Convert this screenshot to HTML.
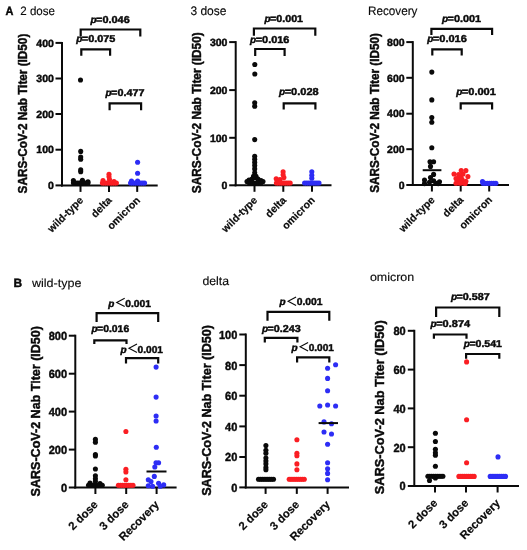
<!DOCTYPE html>
<html><head><meta charset="utf-8"><style>
html,body{margin:0;padding:0;background:#fff;width:527px;height:550px;overflow:hidden}
svg{display:block;will-change:transform}
text{font-family:"Liberation Sans",sans-serif;fill:#0a0a0a}
</style></head><body>
<svg width="527" height="550" viewBox="0 0 527 550">
<rect width="527" height="550" fill="#fff"/>
<line x1="62" y1="41.9" x2="62" y2="186.4" stroke="#0a0a0a" stroke-width="2"/>
<line x1="55.5" y1="185.4" x2="62" y2="185.4" stroke="#0a0a0a" stroke-width="2"/>
<text transform="translate(53.8,189.1) skewX(-0.2)" font-size="10.5" font-weight="bold" font-style="normal" text-anchor="end" textLength="5.84" lengthAdjust="spacingAndGlyphs" stroke="#0a0a0a" stroke-width="0.45" >0</text>
<line x1="55.5" y1="149.7" x2="62" y2="149.7" stroke="#0a0a0a" stroke-width="2"/>
<text transform="translate(53.8,153.4) skewX(-0.2)" font-size="10.5" font-weight="bold" font-style="normal" text-anchor="end" textLength="17.51" lengthAdjust="spacingAndGlyphs" stroke="#0a0a0a" stroke-width="0.45" >100</text>
<line x1="55.5" y1="114.0" x2="62" y2="114.0" stroke="#0a0a0a" stroke-width="2"/>
<text transform="translate(53.8,117.7) skewX(-0.2)" font-size="10.5" font-weight="bold" font-style="normal" text-anchor="end" textLength="17.51" lengthAdjust="spacingAndGlyphs" stroke="#0a0a0a" stroke-width="0.45" >200</text>
<line x1="55.5" y1="78.5" x2="62" y2="78.5" stroke="#0a0a0a" stroke-width="2"/>
<text transform="translate(53.8,82.2) skewX(-0.2)" font-size="10.5" font-weight="bold" font-style="normal" text-anchor="end" textLength="17.51" lengthAdjust="spacingAndGlyphs" stroke="#0a0a0a" stroke-width="0.45" >300</text>
<line x1="55.5" y1="42.9" x2="62" y2="42.9" stroke="#0a0a0a" stroke-width="2"/>
<text transform="translate(53.8,46.6) skewX(-0.2)" font-size="10.5" font-weight="bold" font-style="normal" text-anchor="end" textLength="17.51" lengthAdjust="spacingAndGlyphs" stroke="#0a0a0a" stroke-width="0.45" >400</text>
<line x1="61" y1="185.4" x2="157.7" y2="185.4" stroke="#0a0a0a" stroke-width="2"/>
<line x1="80.5" y1="185.4" x2="80.5" y2="191.9" stroke="#0a0a0a" stroke-width="2"/>
<line x1="109.0" y1="185.4" x2="109.0" y2="191.9" stroke="#0a0a0a" stroke-width="2"/>
<line x1="137.2" y1="185.4" x2="137.2" y2="191.9" stroke="#0a0a0a" stroke-width="2"/>
<text transform="translate(84.0,200.9) rotate(-45)" font-size="10.5" font-weight="bold" text-anchor="end" stroke="#0a0a0a" stroke-width="0.2">wild-type</text>
<text transform="translate(112.5,200.9) rotate(-45)" font-size="10.5" font-weight="bold" text-anchor="end" stroke="#0a0a0a" stroke-width="0.2">delta</text>
<text transform="translate(140.7,200.9) rotate(-45)" font-size="10.5" font-weight="bold" text-anchor="end" stroke="#0a0a0a" stroke-width="0.2">omicron</text>
<text transform="translate(27.1,193.4) rotate(-90)" font-size="13" font-weight="bold" textLength="159.7" lengthAdjust="spacingAndGlyphs" stroke="#0a0a0a" stroke-width="0.45">SARS-CoV-2 Nab Titer (ID50)</text>
<text transform="translate(5.5,14.7) skewX(-0.2)" font-size="12" font-weight="bold" font-style="normal" text-anchor="start" textLength="7.9" lengthAdjust="spacingAndGlyphs" stroke="#0a0a0a" stroke-width="0.45" >A</text>
<text transform="translate(20.3,14.8) skewX(-0.2)" font-size="12.1" font-weight="normal" font-style="normal" text-anchor="start" textLength="34.6" lengthAdjust="spacingAndGlyphs" stroke="#0a0a0a" stroke-width="0.15" >2 dose</text>
<path d="M80.7 36.6 V29.5 H140.3 V36.6" fill="none" stroke="#0a0a0a" stroke-width="2.2" stroke-linecap="butt" stroke-linejoin="miter"/>
<path d="M81.3 55.8 V49.3 H110.1 V55.8" fill="none" stroke="#0a0a0a" stroke-width="2.2" stroke-linecap="butt" stroke-linejoin="miter"/>
<path d="M109.6 110.2 V103.3 H141.1 V110.2" fill="none" stroke="#0a0a0a" stroke-width="2.2" stroke-linecap="butt" stroke-linejoin="miter"/>
<text transform="translate(76.2,42.4) skewX(-0.2)" font-size="10" font-weight="bold" font-style="italic" text-anchor="start" stroke="#0a0a0a" stroke-width="0.45" >p</text>
<text transform="translate(81.8,42.4) skewX(-0.2)" font-size="10" font-weight="bold" font-style="normal" text-anchor="start" textLength="33.6" lengthAdjust="spacingAndGlyphs" stroke="#0a0a0a" stroke-width="0.45" >=0.075</text>
<text transform="translate(105.5,95.8) skewX(-0.2)" font-size="10" font-weight="bold" font-style="italic" text-anchor="start" stroke="#0a0a0a" stroke-width="0.45" >p</text>
<text transform="translate(111.1,95.8) skewX(-0.2)" font-size="10" font-weight="bold" font-style="normal" text-anchor="start" textLength="33.3" lengthAdjust="spacingAndGlyphs" stroke="#0a0a0a" stroke-width="0.45" >=0.477</text>
<text transform="translate(90.5,22.6) skewX(-0.2)" font-size="10" font-weight="bold" font-style="italic" text-anchor="start" stroke="#0a0a0a" stroke-width="0.45" >p</text>
<text transform="translate(96.1,22.6) skewX(-0.2)" font-size="10" font-weight="bold" font-style="normal" text-anchor="start" textLength="33.6" lengthAdjust="spacingAndGlyphs" stroke="#0a0a0a" stroke-width="0.45" >=0.046</text>
<circle cx="80.5" cy="80" r="2.55" fill="#0a0a0a"/>
<circle cx="80.7" cy="151.4" r="2.55" fill="#0a0a0a"/>
<circle cx="80.7" cy="157.1" r="2.55" fill="#0a0a0a"/>
<circle cx="80.7" cy="159.3" r="2.55" fill="#0a0a0a"/>
<circle cx="80.7" cy="169.9" r="2.55" fill="#0a0a0a"/>
<circle cx="80.7" cy="171.8" r="2.55" fill="#0a0a0a"/>
<circle cx="73.4" cy="180.6" r="2.55" fill="#0a0a0a"/>
<circle cx="82.4" cy="180.2" r="2.55" fill="#0a0a0a"/>
<circle cx="88" cy="181.8" r="2.55" fill="#0a0a0a"/>
<circle cx="73.4" cy="183" r="2.55" fill="#0a0a0a"/>
<circle cx="75.49" cy="183" r="2.55" fill="#0a0a0a"/>
<circle cx="77.57" cy="183" r="2.55" fill="#0a0a0a"/>
<circle cx="79.66" cy="183" r="2.55" fill="#0a0a0a"/>
<circle cx="81.74" cy="183" r="2.55" fill="#0a0a0a"/>
<circle cx="83.83" cy="183" r="2.55" fill="#0a0a0a"/>
<circle cx="85.91" cy="183" r="2.55" fill="#0a0a0a"/>
<circle cx="88.0" cy="183" r="2.55" fill="#0a0a0a"/>
<circle cx="109" cy="174.2" r="2.55" fill="#fa1e23"/>
<circle cx="109" cy="176.7" r="2.55" fill="#fa1e23"/>
<circle cx="109.5" cy="179.6" r="2.55" fill="#fa1e23"/>
<circle cx="103" cy="180.5" r="2.55" fill="#fa1e23"/>
<circle cx="114" cy="181.5" r="2.55" fill="#fa1e23"/>
<circle cx="102.4" cy="183" r="2.55" fill="#fa1e23"/>
<circle cx="104.4" cy="183" r="2.55" fill="#fa1e23"/>
<circle cx="106.4" cy="183" r="2.55" fill="#fa1e23"/>
<circle cx="108.4" cy="183" r="2.55" fill="#fa1e23"/>
<circle cx="110.4" cy="183" r="2.55" fill="#fa1e23"/>
<circle cx="112.4" cy="183" r="2.55" fill="#fa1e23"/>
<circle cx="114.4" cy="183" r="2.55" fill="#fa1e23"/>
<circle cx="116.4" cy="183" r="2.55" fill="#fa1e23"/>
<circle cx="137.6" cy="162.2" r="2.55" fill="#2d2df5"/>
<circle cx="137.6" cy="173.3" r="2.55" fill="#2d2df5"/>
<circle cx="131.5" cy="181" r="2.55" fill="#2d2df5"/>
<circle cx="137.6" cy="181" r="2.55" fill="#2d2df5"/>
<circle cx="130.55" cy="183" r="2.55" fill="#2d2df5"/>
<circle cx="132.55" cy="183" r="2.55" fill="#2d2df5"/>
<circle cx="134.55" cy="183" r="2.55" fill="#2d2df5"/>
<circle cx="136.55" cy="183" r="2.55" fill="#2d2df5"/>
<circle cx="138.55" cy="183" r="2.55" fill="#2d2df5"/>
<circle cx="140.55" cy="183" r="2.55" fill="#2d2df5"/>
<circle cx="142.55" cy="183" r="2.55" fill="#2d2df5"/>
<circle cx="144.55" cy="183" r="2.55" fill="#2d2df5"/>
<line x1="235.7" y1="41.1" x2="235.7" y2="186.3" stroke="#0a0a0a" stroke-width="2"/>
<line x1="229.2" y1="185.3" x2="235.7" y2="185.3" stroke="#0a0a0a" stroke-width="2"/>
<text transform="translate(227.4,189.0) skewX(-0.2)" font-size="10.5" font-weight="bold" font-style="normal" text-anchor="end" textLength="5.84" lengthAdjust="spacingAndGlyphs" stroke="#0a0a0a" stroke-width="0.45" >0</text>
<line x1="229.2" y1="137.8" x2="235.7" y2="137.8" stroke="#0a0a0a" stroke-width="2"/>
<text transform="translate(227.4,141.5) skewX(-0.2)" font-size="10.5" font-weight="bold" font-style="normal" text-anchor="end" textLength="17.51" lengthAdjust="spacingAndGlyphs" stroke="#0a0a0a" stroke-width="0.45" >100</text>
<line x1="229.2" y1="90.1" x2="235.7" y2="90.1" stroke="#0a0a0a" stroke-width="2"/>
<text transform="translate(227.4,93.8) skewX(-0.2)" font-size="10.5" font-weight="bold" font-style="normal" text-anchor="end" textLength="17.51" lengthAdjust="spacingAndGlyphs" stroke="#0a0a0a" stroke-width="0.45" >200</text>
<line x1="229.2" y1="42.1" x2="235.7" y2="42.1" stroke="#0a0a0a" stroke-width="2"/>
<text transform="translate(227.4,45.8) skewX(-0.2)" font-size="10.5" font-weight="bold" font-style="normal" text-anchor="end" textLength="17.51" lengthAdjust="spacingAndGlyphs" stroke="#0a0a0a" stroke-width="0.45" >300</text>
<line x1="234.7" y1="185.3" x2="331.5" y2="185.3" stroke="#0a0a0a" stroke-width="2"/>
<line x1="254.5" y1="185.3" x2="254.5" y2="191.8" stroke="#0a0a0a" stroke-width="2"/>
<line x1="283.3" y1="185.3" x2="283.3" y2="191.8" stroke="#0a0a0a" stroke-width="2"/>
<line x1="312.0" y1="185.3" x2="312.0" y2="191.8" stroke="#0a0a0a" stroke-width="2"/>
<text transform="translate(258.0,200.8) rotate(-45)" font-size="10.5" font-weight="bold" text-anchor="end" stroke="#0a0a0a" stroke-width="0.2">wild-type</text>
<text transform="translate(286.8,200.8) rotate(-45)" font-size="10.5" font-weight="bold" text-anchor="end" stroke="#0a0a0a" stroke-width="0.2">delta</text>
<text transform="translate(315.5,200.8) rotate(-45)" font-size="10.5" font-weight="bold" text-anchor="end" stroke="#0a0a0a" stroke-width="0.2">omicron</text>
<text transform="translate(201.2,193.2) rotate(-90)" font-size="13" font-weight="bold" textLength="160.89999999999998" lengthAdjust="spacingAndGlyphs" stroke="#0a0a0a" stroke-width="0.45">SARS-CoV-2 Nab Titer (ID50)</text>
<text transform="translate(190.4,15.0) skewX(-0.2)" font-size="12.4" font-weight="normal" font-style="normal" text-anchor="start" textLength="36.0" lengthAdjust="spacingAndGlyphs" stroke="#0a0a0a" stroke-width="0.15" >3 dose</text>
<path d="M253.9 35.7 V28.5 H315.3 V35.7" fill="none" stroke="#0a0a0a" stroke-width="2.2" stroke-linecap="butt" stroke-linejoin="miter"/>
<path d="M255.2 56 V49 H284.6 V56" fill="none" stroke="#0a0a0a" stroke-width="2.2" stroke-linecap="butt" stroke-linejoin="miter"/>
<path d="M283.7 109.5 V103.3 H315.4 V109.5" fill="none" stroke="#0a0a0a" stroke-width="2.2" stroke-linecap="butt" stroke-linejoin="miter"/>
<text transform="translate(264.5,22.2) skewX(-0.2)" font-size="10" font-weight="bold" font-style="italic" text-anchor="start" stroke="#0a0a0a" stroke-width="0.45" >p</text>
<text transform="translate(270.1,22.2) skewX(-0.2)" font-size="10" font-weight="bold" font-style="normal" text-anchor="start" textLength="32.9" lengthAdjust="spacingAndGlyphs" stroke="#0a0a0a" stroke-width="0.45" >=0.001</text>
<text transform="translate(250.1,42.5) skewX(-0.2)" font-size="10" font-weight="bold" font-style="italic" text-anchor="start" stroke="#0a0a0a" stroke-width="0.45" >p</text>
<text transform="translate(255.7,42.5) skewX(-0.2)" font-size="10" font-weight="bold" font-style="normal" text-anchor="start" textLength="33.7" lengthAdjust="spacingAndGlyphs" stroke="#0a0a0a" stroke-width="0.45" >=0.016</text>
<text transform="translate(279.1,95.3) skewX(-0.2)" font-size="10" font-weight="bold" font-style="italic" text-anchor="start" stroke="#0a0a0a" stroke-width="0.45" >p</text>
<text transform="translate(284.7,95.3) skewX(-0.2)" font-size="10" font-weight="bold" font-style="normal" text-anchor="start" textLength="33.9" lengthAdjust="spacingAndGlyphs" stroke="#0a0a0a" stroke-width="0.45" >=0.028</text>
<circle cx="254.8" cy="64.5" r="2.55" fill="#0a0a0a"/>
<circle cx="254.8" cy="74" r="2.55" fill="#0a0a0a"/>
<circle cx="254.7" cy="102.8" r="2.55" fill="#0a0a0a"/>
<circle cx="254.7" cy="106.2" r="2.55" fill="#0a0a0a"/>
<circle cx="254.7" cy="139.6" r="2.55" fill="#0a0a0a"/>
<circle cx="254.7" cy="156.3" r="2.55" fill="#0a0a0a"/>
<circle cx="254.7" cy="159.2" r="2.55" fill="#0a0a0a"/>
<circle cx="254.7" cy="162.4" r="2.55" fill="#0a0a0a"/>
<circle cx="254.7" cy="165.5" r="2.55" fill="#0a0a0a"/>
<circle cx="254.7" cy="168.9" r="2.55" fill="#0a0a0a"/>
<circle cx="254.7" cy="172.7" r="2.55" fill="#0a0a0a"/>
<circle cx="253.5" cy="176.2" r="2.55" fill="#0a0a0a"/>
<circle cx="256" cy="176.2" r="2.55" fill="#0a0a0a"/>
<circle cx="249" cy="180" r="2.55" fill="#0a0a0a"/>
<circle cx="252" cy="179" r="2.55" fill="#0a0a0a"/>
<circle cx="255" cy="177.5" r="2.55" fill="#0a0a0a"/>
<circle cx="258" cy="179" r="2.55" fill="#0a0a0a"/>
<circle cx="261" cy="180.5" r="2.55" fill="#0a0a0a"/>
<circle cx="247" cy="181.5" r="2.55" fill="#0a0a0a"/>
<circle cx="263" cy="181.5" r="2.55" fill="#0a0a0a"/>
<circle cx="249.4" cy="183" r="2.55" fill="#0a0a0a"/>
<circle cx="251.3" cy="183" r="2.55" fill="#0a0a0a"/>
<circle cx="253.2" cy="183" r="2.55" fill="#0a0a0a"/>
<circle cx="255.1" cy="183" r="2.55" fill="#0a0a0a"/>
<circle cx="257.0" cy="183" r="2.55" fill="#0a0a0a"/>
<circle cx="258.9" cy="183" r="2.55" fill="#0a0a0a"/>
<circle cx="260.8" cy="183" r="2.55" fill="#0a0a0a"/>
<circle cx="283.1" cy="171.8" r="2.55" fill="#fa1e23"/>
<circle cx="283.1" cy="174.7" r="2.55" fill="#fa1e23"/>
<circle cx="283.9" cy="177.6" r="2.55" fill="#fa1e23"/>
<circle cx="276.2" cy="178.8" r="2.55" fill="#fa1e23"/>
<circle cx="280" cy="179.5" r="2.55" fill="#fa1e23"/>
<circle cx="276.4" cy="183" r="2.55" fill="#fa1e23"/>
<circle cx="278.37" cy="183" r="2.55" fill="#fa1e23"/>
<circle cx="280.34" cy="183" r="2.55" fill="#fa1e23"/>
<circle cx="282.31" cy="183" r="2.55" fill="#fa1e23"/>
<circle cx="284.29" cy="183" r="2.55" fill="#fa1e23"/>
<circle cx="286.26" cy="183" r="2.55" fill="#fa1e23"/>
<circle cx="288.23" cy="183" r="2.55" fill="#fa1e23"/>
<circle cx="290.2" cy="183" r="2.55" fill="#fa1e23"/>
<circle cx="311.8" cy="171.8" r="2.55" fill="#2d2df5"/>
<circle cx="311.8" cy="175.3" r="2.55" fill="#2d2df5"/>
<circle cx="311.8" cy="178.2" r="2.55" fill="#2d2df5"/>
<circle cx="304.6" cy="183" r="2.55" fill="#2d2df5"/>
<circle cx="306.66" cy="183" r="2.55" fill="#2d2df5"/>
<circle cx="308.71" cy="183" r="2.55" fill="#2d2df5"/>
<circle cx="310.77" cy="183" r="2.55" fill="#2d2df5"/>
<circle cx="312.83" cy="183" r="2.55" fill="#2d2df5"/>
<circle cx="314.89" cy="183" r="2.55" fill="#2d2df5"/>
<circle cx="316.94" cy="183" r="2.55" fill="#2d2df5"/>
<circle cx="319.0" cy="183" r="2.55" fill="#2d2df5"/>
<line x1="412.8" y1="41.1" x2="412.8" y2="186.0" stroke="#0a0a0a" stroke-width="2"/>
<line x1="406.3" y1="185.0" x2="412.8" y2="185.0" stroke="#0a0a0a" stroke-width="2"/>
<text transform="translate(404.6,188.7) skewX(-0.2)" font-size="10.5" font-weight="bold" font-style="normal" text-anchor="end" textLength="5.84" lengthAdjust="spacingAndGlyphs" stroke="#0a0a0a" stroke-width="0.45" >0</text>
<line x1="406.3" y1="149.2" x2="412.8" y2="149.2" stroke="#0a0a0a" stroke-width="2"/>
<text transform="translate(404.6,152.9) skewX(-0.2)" font-size="10.5" font-weight="bold" font-style="normal" text-anchor="end" textLength="17.51" lengthAdjust="spacingAndGlyphs" stroke="#0a0a0a" stroke-width="0.45" >200</text>
<line x1="406.3" y1="113.7" x2="412.8" y2="113.7" stroke="#0a0a0a" stroke-width="2"/>
<text transform="translate(404.6,117.4) skewX(-0.2)" font-size="10.5" font-weight="bold" font-style="normal" text-anchor="end" textLength="17.51" lengthAdjust="spacingAndGlyphs" stroke="#0a0a0a" stroke-width="0.45" >400</text>
<line x1="406.3" y1="77.8" x2="412.8" y2="77.8" stroke="#0a0a0a" stroke-width="2"/>
<text transform="translate(404.6,81.5) skewX(-0.2)" font-size="10.5" font-weight="bold" font-style="normal" text-anchor="end" textLength="17.51" lengthAdjust="spacingAndGlyphs" stroke="#0a0a0a" stroke-width="0.45" >600</text>
<line x1="406.3" y1="42.1" x2="412.8" y2="42.1" stroke="#0a0a0a" stroke-width="2"/>
<text transform="translate(404.6,45.8) skewX(-0.2)" font-size="10.5" font-weight="bold" font-style="normal" text-anchor="end" textLength="17.51" lengthAdjust="spacingAndGlyphs" stroke="#0a0a0a" stroke-width="0.45" >800</text>
<line x1="411.8" y1="185.0" x2="509" y2="185.0" stroke="#0a0a0a" stroke-width="2"/>
<line x1="431.9" y1="185.0" x2="431.9" y2="191.5" stroke="#0a0a0a" stroke-width="2"/>
<line x1="460.7" y1="185.0" x2="460.7" y2="191.5" stroke="#0a0a0a" stroke-width="2"/>
<line x1="489.2" y1="185.0" x2="489.2" y2="191.5" stroke="#0a0a0a" stroke-width="2"/>
<text transform="translate(435.4,200.5) rotate(-45)" font-size="10.5" font-weight="bold" text-anchor="end" stroke="#0a0a0a" stroke-width="0.2">wild-type</text>
<text transform="translate(464.2,200.5) rotate(-45)" font-size="10.5" font-weight="bold" text-anchor="end" stroke="#0a0a0a" stroke-width="0.2">delta</text>
<text transform="translate(492.7,200.5) rotate(-45)" font-size="10.5" font-weight="bold" text-anchor="end" stroke="#0a0a0a" stroke-width="0.2">omicron</text>
<text transform="translate(378.9,192.8) rotate(-90)" font-size="13" font-weight="bold" textLength="159.8" lengthAdjust="spacingAndGlyphs" stroke="#0a0a0a" stroke-width="0.45">SARS-CoV-2 Nab Titer (ID50)</text>
<text transform="translate(368,15.0) skewX(-0.2)" font-size="12.4" font-weight="normal" font-style="normal" text-anchor="start" textLength="49.4" lengthAdjust="spacingAndGlyphs" stroke="#0a0a0a" stroke-width="0.15" >Recovery</text>
<path d="M431.4 35.1 V28.8 H492.1 V35.1" fill="none" stroke="#0a0a0a" stroke-width="2.2" stroke-linecap="butt" stroke-linejoin="miter"/>
<path d="M432.3 55.4 V49.3 H461.7 V55.4" fill="none" stroke="#0a0a0a" stroke-width="2.2" stroke-linecap="butt" stroke-linejoin="miter"/>
<path d="M460.7 109.5 V103.3 H492.1 V109.5" fill="none" stroke="#0a0a0a" stroke-width="2.2" stroke-linecap="butt" stroke-linejoin="miter"/>
<text transform="translate(442.0,22.2) skewX(-0.2)" font-size="10" font-weight="bold" font-style="italic" text-anchor="start" stroke="#0a0a0a" stroke-width="0.45" >p</text>
<text transform="translate(447.6,22.2) skewX(-0.2)" font-size="10" font-weight="bold" font-style="normal" text-anchor="start" textLength="33.5" lengthAdjust="spacingAndGlyphs" stroke="#0a0a0a" stroke-width="0.45" >=0.001</text>
<text transform="translate(427.2,42.1) skewX(-0.2)" font-size="10" font-weight="bold" font-style="italic" text-anchor="start" stroke="#0a0a0a" stroke-width="0.45" >p</text>
<text transform="translate(432.8,42.1) skewX(-0.2)" font-size="10" font-weight="bold" font-style="normal" text-anchor="start" textLength="34.1" lengthAdjust="spacingAndGlyphs" stroke="#0a0a0a" stroke-width="0.45" >=0.016</text>
<text transform="translate(456.2,95.3) skewX(-0.2)" font-size="10" font-weight="bold" font-style="italic" text-anchor="start" stroke="#0a0a0a" stroke-width="0.45" >p</text>
<text transform="translate(461.8,95.3) skewX(-0.2)" font-size="10" font-weight="bold" font-style="normal" text-anchor="start" textLength="34.1" lengthAdjust="spacingAndGlyphs" stroke="#0a0a0a" stroke-width="0.45" >=0.001</text>
<circle cx="431.8" cy="72.1" r="2.55" fill="#0a0a0a"/>
<circle cx="431.8" cy="99.9" r="2.55" fill="#0a0a0a"/>
<circle cx="431.8" cy="117.5" r="2.55" fill="#0a0a0a"/>
<circle cx="431.8" cy="122.3" r="2.55" fill="#0a0a0a"/>
<circle cx="431.8" cy="147.7" r="2.55" fill="#0a0a0a"/>
<circle cx="430" cy="161.8" r="2.55" fill="#0a0a0a"/>
<circle cx="433.6" cy="161.8" r="2.55" fill="#0a0a0a"/>
<circle cx="430.5" cy="166.4" r="2.55" fill="#0a0a0a"/>
<circle cx="433.6" cy="174.4" r="2.55" fill="#0a0a0a"/>
<circle cx="430.5" cy="177.5" r="2.55" fill="#0a0a0a"/>
<circle cx="424.5" cy="180" r="2.55" fill="#0a0a0a"/>
<circle cx="433.6" cy="180.7" r="2.55" fill="#0a0a0a"/>
<circle cx="439.5" cy="181.8" r="2.55" fill="#0a0a0a"/>
<circle cx="429.5" cy="182.3" r="2.55" fill="#0a0a0a"/>
<circle cx="424.5" cy="183.6" r="2.55" fill="#0a0a0a"/>
<circle cx="435.9" cy="183.4" r="2.55" fill="#0a0a0a"/>
<circle cx="438.2" cy="183.6" r="2.55" fill="#0a0a0a"/>
<circle cx="461" cy="176" r="2.55" fill="#fa1e23"/>
<circle cx="463" cy="174" r="2.55" fill="#fa1e23"/>
<circle cx="458.5" cy="181" r="2.55" fill="#fa1e23"/>
<circle cx="463" cy="183" r="2.55" fill="#fa1e23"/>
<circle cx="459" cy="177.5" r="2.55" fill="#fa1e23"/>
<circle cx="461.2" cy="170.6" r="2.55" fill="#fa1e23"/>
<circle cx="465.9" cy="170.6" r="2.55" fill="#fa1e23"/>
<circle cx="454" cy="174" r="2.55" fill="#fa1e23"/>
<circle cx="458.6" cy="174.6" r="2.55" fill="#fa1e23"/>
<circle cx="467.9" cy="176.6" r="2.55" fill="#fa1e23"/>
<circle cx="456" cy="178.6" r="2.55" fill="#fa1e23"/>
<circle cx="462" cy="179.3" r="2.55" fill="#fa1e23"/>
<circle cx="465.9" cy="181.2" r="2.55" fill="#fa1e23"/>
<circle cx="456" cy="183.2" r="2.55" fill="#fa1e23"/>
<circle cx="460" cy="183.2" r="2.55" fill="#fa1e23"/>
<circle cx="465.2" cy="183.4" r="2.55" fill="#fa1e23"/>
<circle cx="482.5" cy="181.5" r="2.55" fill="#2d2df5"/>
<circle cx="483.0" cy="183.3" r="2.55" fill="#2d2df5"/>
<circle cx="485.15" cy="183.3" r="2.55" fill="#2d2df5"/>
<circle cx="487.3" cy="183.3" r="2.55" fill="#2d2df5"/>
<circle cx="489.45" cy="183.3" r="2.55" fill="#2d2df5"/>
<circle cx="491.6" cy="183.3" r="2.55" fill="#2d2df5"/>
<circle cx="493.75" cy="183.3" r="2.55" fill="#2d2df5"/>
<circle cx="495.9" cy="183.3" r="2.55" fill="#2d2df5"/>
<line x1="422.7" y1="170.2" x2="441.4" y2="170.2" stroke="#0a0a0a" stroke-width="2"/>
<line x1="75.3" y1="334.7" x2="75.3" y2="488.5" stroke="#0a0a0a" stroke-width="2"/>
<line x1="68.8" y1="487.5" x2="75.3" y2="487.5" stroke="#0a0a0a" stroke-width="2"/>
<text transform="translate(67.1,491.9) skewX(-0.2)" font-size="11.7" font-weight="bold" font-style="normal" text-anchor="end" textLength="6.12" lengthAdjust="spacingAndGlyphs" stroke="#0a0a0a" stroke-width="0.45" >0</text>
<line x1="68.8" y1="449.6" x2="75.3" y2="449.6" stroke="#0a0a0a" stroke-width="2"/>
<text transform="translate(67.1,454.0) skewX(-0.2)" font-size="11.7" font-weight="bold" font-style="normal" text-anchor="end" textLength="18.35" lengthAdjust="spacingAndGlyphs" stroke="#0a0a0a" stroke-width="0.45" >200</text>
<line x1="68.8" y1="411.6" x2="75.3" y2="411.6" stroke="#0a0a0a" stroke-width="2"/>
<text transform="translate(67.1,416.0) skewX(-0.2)" font-size="11.7" font-weight="bold" font-style="normal" text-anchor="end" textLength="18.35" lengthAdjust="spacingAndGlyphs" stroke="#0a0a0a" stroke-width="0.45" >400</text>
<line x1="68.8" y1="373.7" x2="75.3" y2="373.7" stroke="#0a0a0a" stroke-width="2"/>
<text transform="translate(67.1,378.1) skewX(-0.2)" font-size="11.7" font-weight="bold" font-style="normal" text-anchor="end" textLength="18.35" lengthAdjust="spacingAndGlyphs" stroke="#0a0a0a" stroke-width="0.45" >600</text>
<line x1="68.8" y1="335.7" x2="75.3" y2="335.7" stroke="#0a0a0a" stroke-width="2"/>
<text transform="translate(67.1,340.1) skewX(-0.2)" font-size="11.7" font-weight="bold" font-style="normal" text-anchor="end" textLength="18.35" lengthAdjust="spacingAndGlyphs" stroke="#0a0a0a" stroke-width="0.45" >800</text>
<line x1="74.3" y1="487.5" x2="176.6" y2="487.5" stroke="#0a0a0a" stroke-width="2"/>
<line x1="95.4" y1="487.5" x2="95.4" y2="494.0" stroke="#0a0a0a" stroke-width="2"/>
<line x1="126.2" y1="487.5" x2="126.2" y2="494.0" stroke="#0a0a0a" stroke-width="2"/>
<line x1="156.6" y1="487.5" x2="156.6" y2="494.0" stroke="#0a0a0a" stroke-width="2"/>
<text transform="translate(98.60000000000001,505.3) rotate(-45)" font-size="11.4" font-weight="bold" text-anchor="end" stroke="#0a0a0a" stroke-width="0.2">2 dose</text>
<text transform="translate(129.4,505.3) rotate(-45)" font-size="11.4" font-weight="bold" text-anchor="end" stroke="#0a0a0a" stroke-width="0.2">3 dose</text>
<text transform="translate(159.79999999999998,505.3) rotate(-45)" font-size="11.4" font-weight="bold" text-anchor="end" stroke="#0a0a0a" stroke-width="0.2">Recovery</text>
<text transform="translate(40.2,496.4) rotate(-90)" font-size="12.9" font-weight="bold" textLength="170.39999999999998" lengthAdjust="spacingAndGlyphs" stroke="#0a0a0a" stroke-width="0.45">SARS-CoV-2 Nab Titer (ID50)</text>
<text transform="translate(13.6,287.1) skewX(-0.2)" font-size="12" font-weight="bold" font-style="normal" text-anchor="start" textLength="8.6" lengthAdjust="spacingAndGlyphs" stroke="#0a0a0a" stroke-width="0.45" >B</text>
<text transform="translate(32,286.5) skewX(-0.2)" font-size="11.8" font-weight="normal" font-style="normal" text-anchor="start" textLength="49.4" lengthAdjust="spacingAndGlyphs" stroke="#0a0a0a" stroke-width="0.15" >wild-type</text>
<path d="M96.6 322.1 V313.2 H158.2 V322.1" fill="none" stroke="#0a0a0a" stroke-width="2.2" stroke-linecap="butt" stroke-linejoin="miter"/>
<path d="M94.3 344.1 V340.3 H126.5 V344.1" fill="none" stroke="#0a0a0a" stroke-width="2.2" stroke-linecap="butt" stroke-linejoin="miter"/>
<path d="M126 363.5 V358.2 H158.2 V363.5" fill="none" stroke="#0a0a0a" stroke-width="2.2" stroke-linecap="butt" stroke-linejoin="miter"/>
<text transform="translate(108.2,306.6) skewX(-0.2)" font-size="10" font-weight="bold" font-style="italic" text-anchor="start" stroke="#0a0a0a" stroke-width="0.45" >p</text>
<path d="M124.7 298.2 L116.7 302.4 L124.7 306.6" fill="none" stroke="#0a0a0a" stroke-width="1.1"/>
<text transform="translate(125.3,306.6) skewX(-0.2)" font-size="10" font-weight="bold" font-style="normal" text-anchor="start" textLength="25.7" lengthAdjust="spacingAndGlyphs" stroke="#0a0a0a" stroke-width="0.45" >0.001</text>
<text transform="translate(91.5,332.0) skewX(-0.2)" font-size="10" font-weight="bold" font-style="italic" text-anchor="start" stroke="#0a0a0a" stroke-width="0.45" >p</text>
<text transform="translate(97.1,332.0) skewX(-0.2)" font-size="10" font-weight="bold" font-style="normal" text-anchor="start" textLength="32.1" lengthAdjust="spacingAndGlyphs" stroke="#0a0a0a" stroke-width="0.45" >=0.016</text>
<text transform="translate(120.5,352.5) skewX(-0.2)" font-size="10" font-weight="bold" font-style="italic" text-anchor="start" stroke="#0a0a0a" stroke-width="0.45" >p</text>
<path d="M137.0 344.1 L129.0 348.3 L137.0 352.5" fill="none" stroke="#0a0a0a" stroke-width="1.1"/>
<text transform="translate(137.6,352.5) skewX(-0.2)" font-size="10" font-weight="bold" font-style="normal" text-anchor="start" textLength="25.4" lengthAdjust="spacingAndGlyphs" stroke="#0a0a0a" stroke-width="0.45" >0.001</text>
<circle cx="95.4" cy="439.4" r="2.55" fill="#0a0a0a"/>
<circle cx="95.4" cy="442.3" r="2.55" fill="#0a0a0a"/>
<circle cx="95.4" cy="454.6" r="2.55" fill="#0a0a0a"/>
<circle cx="95.4" cy="456" r="2.55" fill="#0a0a0a"/>
<circle cx="95.4" cy="469" r="2.55" fill="#0a0a0a"/>
<circle cx="95.4" cy="475.8" r="2.55" fill="#0a0a0a"/>
<circle cx="95.4" cy="478.8" r="2.55" fill="#0a0a0a"/>
<circle cx="95.4" cy="481.5" r="2.55" fill="#0a0a0a"/>
<circle cx="90" cy="483" r="2.55" fill="#0a0a0a"/>
<circle cx="100" cy="483.5" r="2.55" fill="#0a0a0a"/>
<circle cx="88.5" cy="485.3" r="2.55" fill="#0a0a0a"/>
<circle cx="90.47" cy="485.3" r="2.55" fill="#0a0a0a"/>
<circle cx="92.44" cy="485.3" r="2.55" fill="#0a0a0a"/>
<circle cx="94.41" cy="485.3" r="2.55" fill="#0a0a0a"/>
<circle cx="96.39" cy="485.3" r="2.55" fill="#0a0a0a"/>
<circle cx="98.36" cy="485.3" r="2.55" fill="#0a0a0a"/>
<circle cx="100.33" cy="485.3" r="2.55" fill="#0a0a0a"/>
<circle cx="102.3" cy="485.3" r="2.55" fill="#0a0a0a"/>
<circle cx="125.9" cy="431.5" r="2.55" fill="#fa1e23"/>
<circle cx="125.9" cy="469.3" r="2.55" fill="#fa1e23"/>
<circle cx="125.9" cy="472" r="2.55" fill="#fa1e23"/>
<circle cx="125.9" cy="479.8" r="2.55" fill="#fa1e23"/>
<circle cx="118.4" cy="485.3" r="2.55" fill="#fa1e23"/>
<circle cx="120.49" cy="485.3" r="2.55" fill="#fa1e23"/>
<circle cx="122.57" cy="485.3" r="2.55" fill="#fa1e23"/>
<circle cx="124.66" cy="485.3" r="2.55" fill="#fa1e23"/>
<circle cx="126.74" cy="485.3" r="2.55" fill="#fa1e23"/>
<circle cx="128.83" cy="485.3" r="2.55" fill="#fa1e23"/>
<circle cx="130.91" cy="485.3" r="2.55" fill="#fa1e23"/>
<circle cx="133.0" cy="485.3" r="2.55" fill="#fa1e23"/>
<circle cx="156.1" cy="367.1" r="2.55" fill="#2d2df5"/>
<circle cx="156.1" cy="397.1" r="2.55" fill="#2d2df5"/>
<circle cx="156.1" cy="416" r="2.55" fill="#2d2df5"/>
<circle cx="156.1" cy="421" r="2.55" fill="#2d2df5"/>
<circle cx="156.3" cy="447.3" r="2.55" fill="#2d2df5"/>
<circle cx="156" cy="462.7" r="2.55" fill="#2d2df5"/>
<circle cx="158.6" cy="462.7" r="2.55" fill="#2d2df5"/>
<circle cx="154.8" cy="467" r="2.55" fill="#2d2df5"/>
<circle cx="154.3" cy="476.4" r="2.55" fill="#2d2df5"/>
<circle cx="148.3" cy="479.8" r="2.55" fill="#2d2df5"/>
<circle cx="151" cy="481.5" r="2.55" fill="#2d2df5"/>
<circle cx="158.6" cy="483.2" r="2.55" fill="#2d2df5"/>
<circle cx="163.7" cy="484.9" r="2.55" fill="#2d2df5"/>
<circle cx="148.3" cy="485.7" r="2.55" fill="#2d2df5"/>
<circle cx="152.6" cy="486.2" r="2.55" fill="#2d2df5"/>
<circle cx="160.3" cy="486.2" r="2.55" fill="#2d2df5"/>
<line x1="146.5" y1="471.5" x2="166.5" y2="471.5" stroke="#0a0a0a" stroke-width="2"/>
<line x1="245.8" y1="333.5" x2="245.8" y2="488.4" stroke="#0a0a0a" stroke-width="2"/>
<line x1="239.3" y1="487.4" x2="245.8" y2="487.4" stroke="#0a0a0a" stroke-width="2"/>
<text transform="translate(237.3,491.8) skewX(-0.2)" font-size="11.7" font-weight="bold" font-style="normal" text-anchor="end" textLength="6.12" lengthAdjust="spacingAndGlyphs" stroke="#0a0a0a" stroke-width="0.45" >0</text>
<line x1="239.3" y1="457.0" x2="245.8" y2="457.0" stroke="#0a0a0a" stroke-width="2"/>
<text transform="translate(237.3,461.4) skewX(-0.2)" font-size="11.7" font-weight="bold" font-style="normal" text-anchor="end" textLength="12.23" lengthAdjust="spacingAndGlyphs" stroke="#0a0a0a" stroke-width="0.45" >20</text>
<line x1="239.3" y1="426.4" x2="245.8" y2="426.4" stroke="#0a0a0a" stroke-width="2"/>
<text transform="translate(237.3,430.8) skewX(-0.2)" font-size="11.7" font-weight="bold" font-style="normal" text-anchor="end" textLength="12.23" lengthAdjust="spacingAndGlyphs" stroke="#0a0a0a" stroke-width="0.45" >40</text>
<line x1="239.3" y1="395.7" x2="245.8" y2="395.7" stroke="#0a0a0a" stroke-width="2"/>
<text transform="translate(237.3,400.1) skewX(-0.2)" font-size="11.7" font-weight="bold" font-style="normal" text-anchor="end" textLength="12.23" lengthAdjust="spacingAndGlyphs" stroke="#0a0a0a" stroke-width="0.45" >60</text>
<line x1="239.3" y1="365.1" x2="245.8" y2="365.1" stroke="#0a0a0a" stroke-width="2"/>
<text transform="translate(237.3,369.5) skewX(-0.2)" font-size="11.7" font-weight="bold" font-style="normal" text-anchor="end" textLength="12.23" lengthAdjust="spacingAndGlyphs" stroke="#0a0a0a" stroke-width="0.45" >80</text>
<line x1="239.3" y1="334.5" x2="245.8" y2="334.5" stroke="#0a0a0a" stroke-width="2"/>
<text transform="translate(237.3,338.9) skewX(-0.2)" font-size="11.7" font-weight="bold" font-style="normal" text-anchor="end" textLength="18.35" lengthAdjust="spacingAndGlyphs" stroke="#0a0a0a" stroke-width="0.45" >100</text>
<line x1="244.8" y1="487.4" x2="349" y2="487.4" stroke="#0a0a0a" stroke-width="2"/>
<line x1="265.6" y1="487.4" x2="265.6" y2="493.9" stroke="#0a0a0a" stroke-width="2"/>
<line x1="296.8" y1="487.4" x2="296.8" y2="493.9" stroke="#0a0a0a" stroke-width="2"/>
<line x1="327.6" y1="487.4" x2="327.6" y2="493.9" stroke="#0a0a0a" stroke-width="2"/>
<text transform="translate(268.8,505.2) rotate(-45)" font-size="11.4" font-weight="bold" text-anchor="end" stroke="#0a0a0a" stroke-width="0.2">2 dose</text>
<text transform="translate(300.0,505.2) rotate(-45)" font-size="11.4" font-weight="bold" text-anchor="end" stroke="#0a0a0a" stroke-width="0.2">3 dose</text>
<text transform="translate(330.8,505.2) rotate(-45)" font-size="11.4" font-weight="bold" text-anchor="end" stroke="#0a0a0a" stroke-width="0.2">Recovery</text>
<text transform="translate(210.6,495.8) rotate(-90)" font-size="12.9" font-weight="bold" textLength="170.8" lengthAdjust="spacingAndGlyphs" stroke="#0a0a0a" stroke-width="0.45">SARS-CoV-2 Nab Titer (ID50)</text>
<text transform="translate(202.4,285.4) skewX(-0.2)" font-size="12" font-weight="normal" font-style="normal" text-anchor="start" textLength="26.6" lengthAdjust="spacingAndGlyphs" stroke="#0a0a0a" stroke-width="0.15" >delta</text>
<path d="M267.5 320.8 V311.9 H329.3 V320.8" fill="none" stroke="#0a0a0a" stroke-width="2.2" stroke-linecap="butt" stroke-linejoin="miter"/>
<path d="M264.8 342.6 V337.9 H297.4 V342.6" fill="none" stroke="#0a0a0a" stroke-width="2.2" stroke-linecap="butt" stroke-linejoin="miter"/>
<path d="M297.1 362.5 V357.4 H329.3 V362.5" fill="none" stroke="#0a0a0a" stroke-width="2.2" stroke-linecap="butt" stroke-linejoin="miter"/>
<text transform="translate(279.6,305.4) skewX(-0.2)" font-size="10" font-weight="bold" font-style="italic" text-anchor="start" stroke="#0a0a0a" stroke-width="0.45" >p</text>
<path d="M296.1 297.0 L288.1 301.2 L296.1 305.4" fill="none" stroke="#0a0a0a" stroke-width="1.1"/>
<text transform="translate(296.7,305.4) skewX(-0.2)" font-size="10" font-weight="bold" font-style="normal" text-anchor="start" textLength="25.8" lengthAdjust="spacingAndGlyphs" stroke="#0a0a0a" stroke-width="0.45" >0.001</text>
<text transform="translate(262.0,331.6) skewX(-0.2)" font-size="10" font-weight="bold" font-style="italic" text-anchor="start" stroke="#0a0a0a" stroke-width="0.45" >p</text>
<text transform="translate(267.6,331.6) skewX(-0.2)" font-size="10" font-weight="bold" font-style="normal" text-anchor="start" textLength="33.1" lengthAdjust="spacingAndGlyphs" stroke="#0a0a0a" stroke-width="0.45" >=0.243</text>
<text transform="translate(291.6,351.0) skewX(-0.2)" font-size="10" font-weight="bold" font-style="italic" text-anchor="start" stroke="#0a0a0a" stroke-width="0.45" >p</text>
<path d="M308.1 342.6 L300.1 346.8 L308.1 351.0" fill="none" stroke="#0a0a0a" stroke-width="1.1"/>
<text transform="translate(308.7,351.0) skewX(-0.2)" font-size="10" font-weight="bold" font-style="normal" text-anchor="start" textLength="25.2" lengthAdjust="spacingAndGlyphs" stroke="#0a0a0a" stroke-width="0.45" >0.001</text>
<circle cx="265.9" cy="445.5" r="2.55" fill="#0a0a0a"/>
<circle cx="265.9" cy="450.2" r="2.55" fill="#0a0a0a"/>
<circle cx="265.9" cy="453.3" r="2.55" fill="#0a0a0a"/>
<circle cx="265.9" cy="458" r="2.55" fill="#0a0a0a"/>
<circle cx="265.9" cy="461.1" r="2.55" fill="#0a0a0a"/>
<circle cx="265.9" cy="463.9" r="2.55" fill="#0a0a0a"/>
<circle cx="265.9" cy="467.5" r="2.55" fill="#0a0a0a"/>
<circle cx="265.9" cy="469.8" r="2.55" fill="#0a0a0a"/>
<circle cx="258.5" cy="479.3" r="2.55" fill="#0a0a0a"/>
<circle cx="260.38" cy="479.3" r="2.55" fill="#0a0a0a"/>
<circle cx="262.25" cy="479.3" r="2.55" fill="#0a0a0a"/>
<circle cx="264.12" cy="479.3" r="2.55" fill="#0a0a0a"/>
<circle cx="266.0" cy="479.3" r="2.55" fill="#0a0a0a"/>
<circle cx="267.88" cy="479.3" r="2.55" fill="#0a0a0a"/>
<circle cx="269.75" cy="479.3" r="2.55" fill="#0a0a0a"/>
<circle cx="271.62" cy="479.3" r="2.55" fill="#0a0a0a"/>
<circle cx="273.5" cy="479.3" r="2.55" fill="#0a0a0a"/>
<circle cx="296.9" cy="439.8" r="2.55" fill="#fa1e23"/>
<circle cx="296.9" cy="453.3" r="2.55" fill="#fa1e23"/>
<circle cx="296.9" cy="455.7" r="2.55" fill="#fa1e23"/>
<circle cx="296.9" cy="463.9" r="2.55" fill="#fa1e23"/>
<circle cx="296.9" cy="469.8" r="2.55" fill="#fa1e23"/>
<circle cx="289.2" cy="479.3" r="2.55" fill="#fa1e23"/>
<circle cx="291.09" cy="479.3" r="2.55" fill="#fa1e23"/>
<circle cx="292.97" cy="479.3" r="2.55" fill="#fa1e23"/>
<circle cx="294.86" cy="479.3" r="2.55" fill="#fa1e23"/>
<circle cx="296.75" cy="479.3" r="2.55" fill="#fa1e23"/>
<circle cx="298.64" cy="479.3" r="2.55" fill="#fa1e23"/>
<circle cx="300.52" cy="479.3" r="2.55" fill="#fa1e23"/>
<circle cx="302.41" cy="479.3" r="2.55" fill="#fa1e23"/>
<circle cx="304.3" cy="479.3" r="2.55" fill="#fa1e23"/>
<circle cx="335.6" cy="364.7" r="2.55" fill="#2d2df5"/>
<circle cx="327.6" cy="368.3" r="2.55" fill="#2d2df5"/>
<circle cx="327.6" cy="378.4" r="2.55" fill="#2d2df5"/>
<circle cx="327.6" cy="390.7" r="2.55" fill="#2d2df5"/>
<circle cx="319.8" cy="406" r="2.55" fill="#2d2df5"/>
<circle cx="327.6" cy="405" r="2.55" fill="#2d2df5"/>
<circle cx="335.6" cy="406" r="2.55" fill="#2d2df5"/>
<circle cx="324" cy="421.9" r="2.55" fill="#2d2df5"/>
<circle cx="331.5" cy="423.8" r="2.55" fill="#2d2df5"/>
<circle cx="324" cy="432" r="2.55" fill="#2d2df5"/>
<circle cx="331.5" cy="434" r="2.55" fill="#2d2df5"/>
<circle cx="327.6" cy="444.3" r="2.55" fill="#2d2df5"/>
<circle cx="327.6" cy="462.8" r="2.55" fill="#2d2df5"/>
<circle cx="327.6" cy="468.7" r="2.55" fill="#2d2df5"/>
<circle cx="327.6" cy="473.4" r="2.55" fill="#2d2df5"/>
<circle cx="327.6" cy="479.8" r="2.55" fill="#2d2df5"/>
<line x1="318.6" y1="423.1" x2="338" y2="423.1" stroke="#0a0a0a" stroke-width="2"/>
<line x1="414.3" y1="329.8" x2="414.3" y2="487.0" stroke="#0a0a0a" stroke-width="2"/>
<line x1="407.8" y1="486.0" x2="414.3" y2="486.0" stroke="#0a0a0a" stroke-width="2"/>
<text transform="translate(405.7,490.4) skewX(-0.2)" font-size="11.7" font-weight="bold" font-style="normal" text-anchor="end" textLength="6.12" lengthAdjust="spacingAndGlyphs" stroke="#0a0a0a" stroke-width="0.45" >0</text>
<line x1="407.8" y1="447.2" x2="414.3" y2="447.2" stroke="#0a0a0a" stroke-width="2"/>
<text transform="translate(405.7,451.6) skewX(-0.2)" font-size="11.7" font-weight="bold" font-style="normal" text-anchor="end" textLength="12.23" lengthAdjust="spacingAndGlyphs" stroke="#0a0a0a" stroke-width="0.45" >20</text>
<line x1="407.8" y1="408.4" x2="414.3" y2="408.4" stroke="#0a0a0a" stroke-width="2"/>
<text transform="translate(405.7,412.8) skewX(-0.2)" font-size="11.7" font-weight="bold" font-style="normal" text-anchor="end" textLength="12.23" lengthAdjust="spacingAndGlyphs" stroke="#0a0a0a" stroke-width="0.45" >40</text>
<line x1="407.8" y1="369.6" x2="414.3" y2="369.6" stroke="#0a0a0a" stroke-width="2"/>
<text transform="translate(405.7,374.0) skewX(-0.2)" font-size="11.7" font-weight="bold" font-style="normal" text-anchor="end" textLength="12.23" lengthAdjust="spacingAndGlyphs" stroke="#0a0a0a" stroke-width="0.45" >60</text>
<line x1="407.8" y1="330.8" x2="414.3" y2="330.8" stroke="#0a0a0a" stroke-width="2"/>
<text transform="translate(405.7,335.2) skewX(-0.2)" font-size="11.7" font-weight="bold" font-style="normal" text-anchor="end" textLength="12.23" lengthAdjust="spacingAndGlyphs" stroke="#0a0a0a" stroke-width="0.45" >80</text>
<line x1="413.3" y1="486.0" x2="519" y2="486.0" stroke="#0a0a0a" stroke-width="2"/>
<line x1="435.0" y1="486.0" x2="435.0" y2="492.5" stroke="#0a0a0a" stroke-width="2"/>
<line x1="466.0" y1="486.0" x2="466.0" y2="492.5" stroke="#0a0a0a" stroke-width="2"/>
<line x1="497.6" y1="486.0" x2="497.6" y2="492.5" stroke="#0a0a0a" stroke-width="2"/>
<text transform="translate(438.2,503.8) rotate(-45)" font-size="11.4" font-weight="bold" text-anchor="end" stroke="#0a0a0a" stroke-width="0.2">2 dose</text>
<text transform="translate(469.2,503.8) rotate(-45)" font-size="11.4" font-weight="bold" text-anchor="end" stroke="#0a0a0a" stroke-width="0.2">3 dose</text>
<text transform="translate(500.8,503.8) rotate(-45)" font-size="11.4" font-weight="bold" text-anchor="end" stroke="#0a0a0a" stroke-width="0.2">Recovery</text>
<text transform="translate(384.4,494.3) rotate(-90)" font-size="12.9" font-weight="bold" textLength="174.0" lengthAdjust="spacingAndGlyphs" stroke="#0a0a0a" stroke-width="0.45">SARS-CoV-2 Nab Titer (ID50)</text>
<text transform="translate(369.9,280.8) skewX(-0.2)" font-size="11.8" font-weight="normal" font-style="normal" text-anchor="start" textLength="44.2" lengthAdjust="spacingAndGlyphs" stroke="#0a0a0a" stroke-width="0.15" >omicron</text>
<path d="M436.1 317 V307.5 H499.3 V317" fill="none" stroke="#0a0a0a" stroke-width="2.2" stroke-linecap="butt" stroke-linejoin="miter"/>
<path d="M433.9 338.8 V334.5 H466.5 V338.8" fill="none" stroke="#0a0a0a" stroke-width="2.2" stroke-linecap="butt" stroke-linejoin="miter"/>
<path d="M466.1 358.7 V354 H499.3 V358.7" fill="none" stroke="#0a0a0a" stroke-width="2.2" stroke-linecap="butt" stroke-linejoin="miter"/>
<text transform="translate(450.9,300.3) skewX(-0.2)" font-size="10" font-weight="bold" font-style="italic" text-anchor="start" stroke="#0a0a0a" stroke-width="0.45" >p</text>
<text transform="translate(456.5,300.3) skewX(-0.2)" font-size="10" font-weight="bold" font-style="normal" text-anchor="start" textLength="33.2" lengthAdjust="spacingAndGlyphs" stroke="#0a0a0a" stroke-width="0.45" >=0.587</text>
<text transform="translate(430.6,326.9) skewX(-0.2)" font-size="10" font-weight="bold" font-style="italic" text-anchor="start" stroke="#0a0a0a" stroke-width="0.45" >p</text>
<text transform="translate(436.2,326.9) skewX(-0.2)" font-size="10" font-weight="bold" font-style="normal" text-anchor="start" textLength="33.9" lengthAdjust="spacingAndGlyphs" stroke="#0a0a0a" stroke-width="0.45" >=0.874</text>
<text transform="translate(463.8,347.2) skewX(-0.2)" font-size="10" font-weight="bold" font-style="italic" text-anchor="start" stroke="#0a0a0a" stroke-width="0.45" >p</text>
<text transform="translate(469.4,347.2) skewX(-0.2)" font-size="10" font-weight="bold" font-style="normal" text-anchor="start" textLength="32.6" lengthAdjust="spacingAndGlyphs" stroke="#0a0a0a" stroke-width="0.45" >=0.541</text>
<circle cx="435.4" cy="433.2" r="2.55" fill="#0a0a0a"/>
<circle cx="435.4" cy="441.5" r="2.55" fill="#0a0a0a"/>
<circle cx="435.4" cy="449.3" r="2.55" fill="#0a0a0a"/>
<circle cx="435.4" cy="452.8" r="2.55" fill="#0a0a0a"/>
<circle cx="435.4" cy="455.2" r="2.55" fill="#0a0a0a"/>
<circle cx="435.4" cy="466.3" r="2.55" fill="#0a0a0a"/>
<circle cx="429.5" cy="480.5" r="2.55" fill="#0a0a0a"/>
<circle cx="435.4" cy="478" r="2.55" fill="#0a0a0a"/>
<circle cx="427.9" cy="476.2" r="2.55" fill="#0a0a0a"/>
<circle cx="429.77" cy="476.2" r="2.55" fill="#0a0a0a"/>
<circle cx="431.65" cy="476.2" r="2.55" fill="#0a0a0a"/>
<circle cx="433.52" cy="476.2" r="2.55" fill="#0a0a0a"/>
<circle cx="435.4" cy="476.2" r="2.55" fill="#0a0a0a"/>
<circle cx="437.27" cy="476.2" r="2.55" fill="#0a0a0a"/>
<circle cx="439.15" cy="476.2" r="2.55" fill="#0a0a0a"/>
<circle cx="441.02" cy="476.2" r="2.55" fill="#0a0a0a"/>
<circle cx="442.9" cy="476.2" r="2.55" fill="#0a0a0a"/>
<circle cx="466.6" cy="361.9" r="2.55" fill="#fa1e23"/>
<circle cx="466.6" cy="419.8" r="2.55" fill="#fa1e23"/>
<circle cx="466.6" cy="462.8" r="2.55" fill="#fa1e23"/>
<circle cx="458.9" cy="476.4" r="2.55" fill="#fa1e23"/>
<circle cx="460.81" cy="476.4" r="2.55" fill="#fa1e23"/>
<circle cx="462.73" cy="476.4" r="2.55" fill="#fa1e23"/>
<circle cx="464.64" cy="476.4" r="2.55" fill="#fa1e23"/>
<circle cx="466.55" cy="476.4" r="2.55" fill="#fa1e23"/>
<circle cx="468.46" cy="476.4" r="2.55" fill="#fa1e23"/>
<circle cx="470.38" cy="476.4" r="2.55" fill="#fa1e23"/>
<circle cx="472.29" cy="476.4" r="2.55" fill="#fa1e23"/>
<circle cx="474.2" cy="476.4" r="2.55" fill="#fa1e23"/>
<circle cx="498" cy="456.9" r="2.55" fill="#2d2df5"/>
<circle cx="490.2" cy="476.4" r="2.55" fill="#2d2df5"/>
<circle cx="492.11" cy="476.4" r="2.55" fill="#2d2df5"/>
<circle cx="494.03" cy="476.4" r="2.55" fill="#2d2df5"/>
<circle cx="495.94" cy="476.4" r="2.55" fill="#2d2df5"/>
<circle cx="497.85" cy="476.4" r="2.55" fill="#2d2df5"/>
<circle cx="499.76" cy="476.4" r="2.55" fill="#2d2df5"/>
<circle cx="501.68" cy="476.4" r="2.55" fill="#2d2df5"/>
<circle cx="503.59" cy="476.4" r="2.55" fill="#2d2df5"/>
<circle cx="505.5" cy="476.4" r="2.55" fill="#2d2df5"/>
</svg></body></html>
